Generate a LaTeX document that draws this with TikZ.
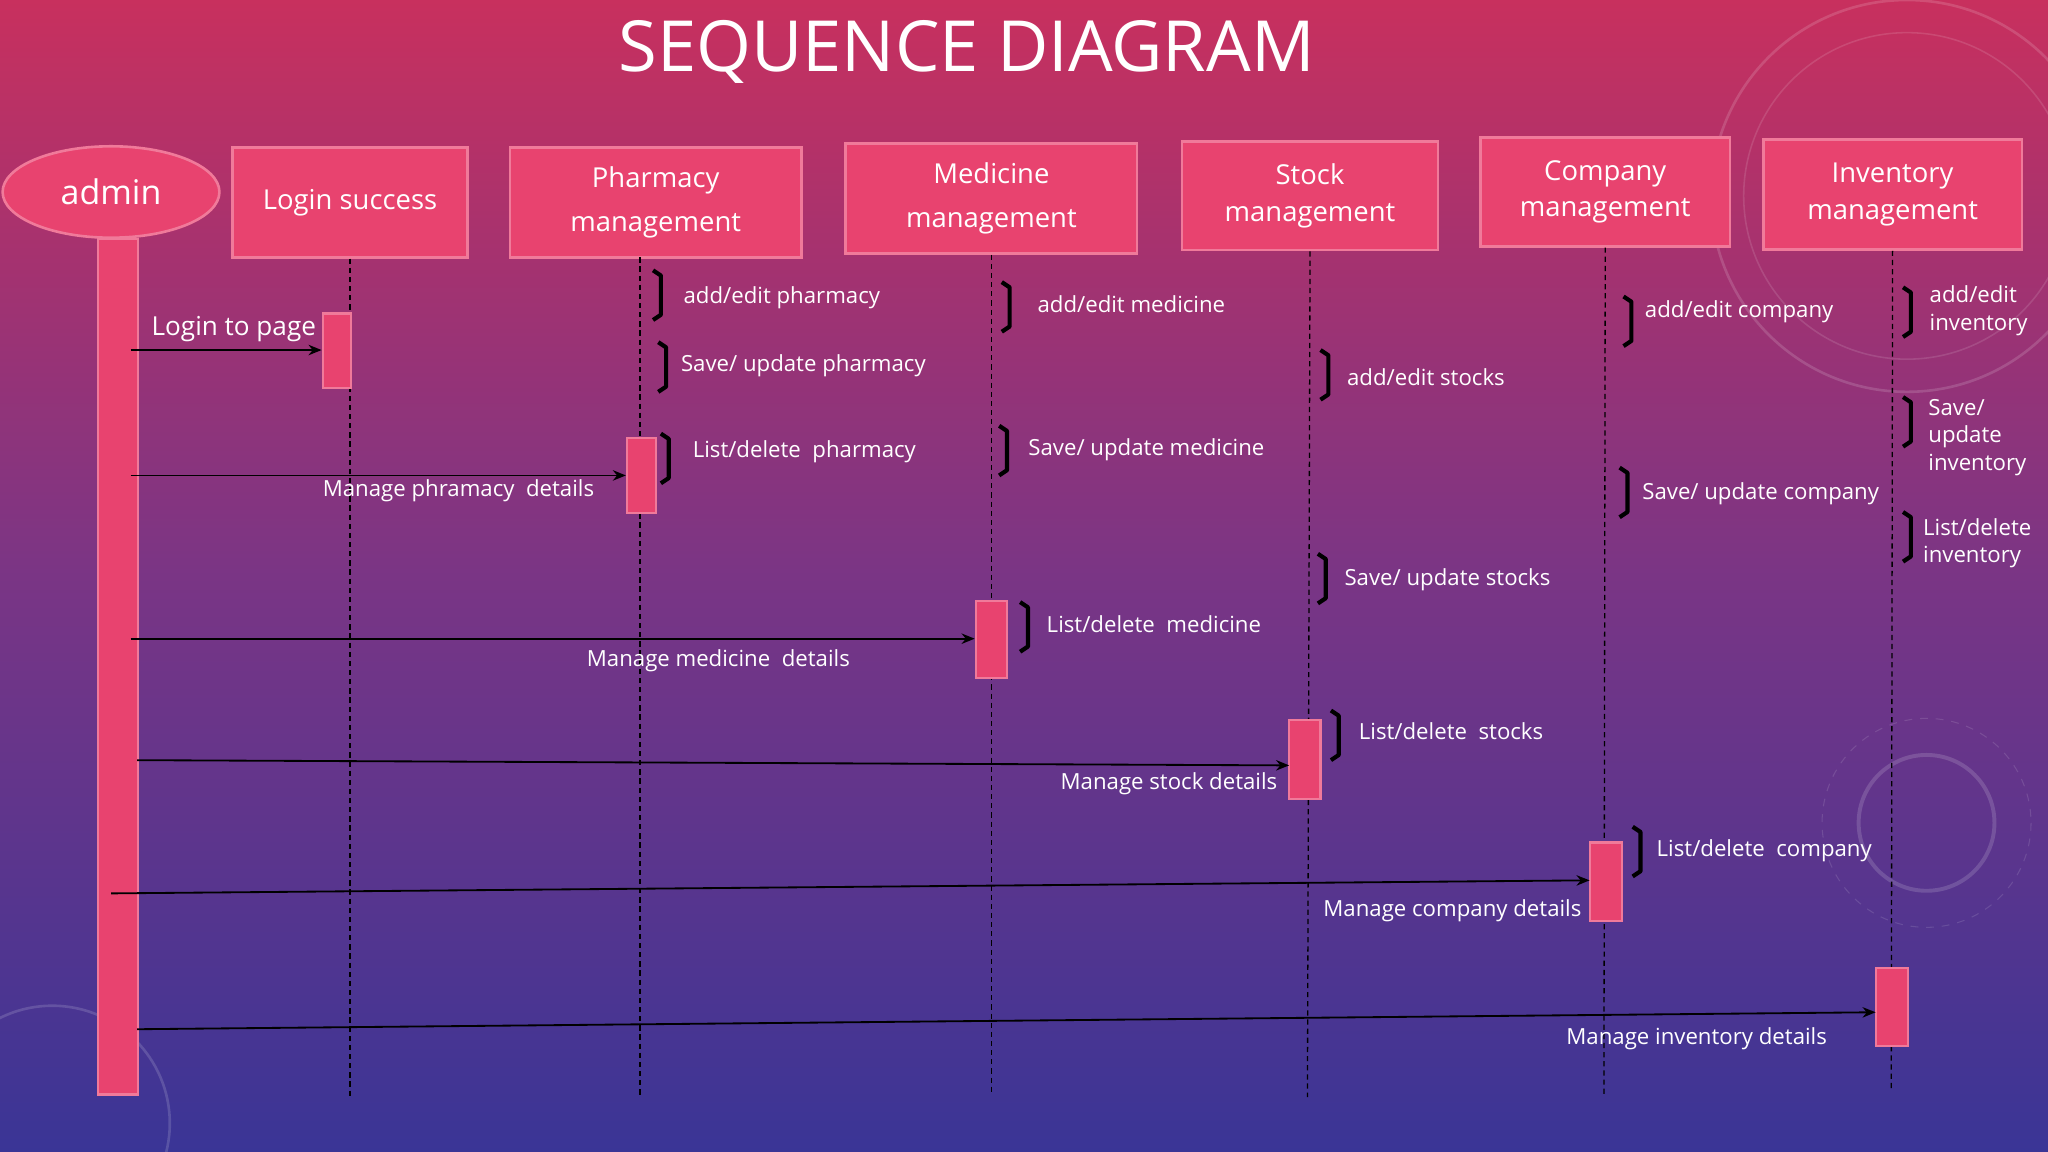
\documentclass[tikz,border=0pt]{standalone}
\usepackage{fontspec}
\setmainfont{Open Sans}
\usetikzlibrary{arrows.meta,shapes.geometric}
\definecolor{boxfill}{HTML}{E8436F}
\definecolor{boxline}{HTML}{F07A9A}
\definecolor{bgtop}{HTML}{C8305E}
\definecolor{bgmid}{HTML}{7A3585}
\definecolor{bgbot}{HTML}{3A3596}
\tikzset{
  x=0.5pt,y=-0.5pt,
  hdr/.style={draw=boxline,line width=1pt,fill=boxfill,text=white,font=\fontsize{10.5}{14}\selectfont,align=center,inner sep=0pt},
  bar/.style={draw=boxline,line width=0.8pt,fill=boxfill,inner sep=0pt},
  life/.style={dashed,black,line width=0.5pt,dash pattern=on 2pt off 1.5pt},
  msg/.style={-{Stealth[length=5pt,width=4pt]},black,line width=0.7pt},
  lbl/.style={text=white,font=\fontsize{8.5}{10.5}\selectfont,inner sep=0pt,align=left},
  brk/.style={black,line width=1.6pt,line join=round},
  sz/.style 2 args={minimum width=0.5*#1 pt,minimum height=0.5*#2 pt}
}
\newcommand{\brak}[3]{\draw[brk] (#1-6,#2) -- (#1,#2+4) -- (#1,#3-4) -- (#1-6,#3);}
\begin{document}
\begin{tikzpicture}
\useasboundingbox (0,0) rectangle (1568,882);
\shade[top color=bgtop,bottom color=bgbot,middle color=bgmid] (0,0) rectangle (1568,882);
\draw[white,opacity=0.15,line width=1pt] (1460,150) circle (150);
\draw[white,opacity=0.12,line width=0.6pt] (1460,150) circle (125);
\draw[white,opacity=0.15,line width=1.5pt] (1475,630) circle (52);
\draw[white,opacity=0.12,dashed] (1475,630) circle (80);
\draw[white,opacity=0.15,line width=1pt] (40,860) circle (90);

\node[text=white,font=\fontsize{27}{30}\selectfont] (title) at (740,40) {SEQUENCE DIAGRAM};

\node[draw=boxline,line width=1pt,fill=boxfill,ellipse,sz={166}{70},text=white,font=\fontsize{13}{15}\selectfont,inner sep=0pt] (admin) at (85,147) {admin};
\node[hdr,sz={180}{84}] (login) at (268,155) {Login success};
\node[hdr,sz={223}{84}] (pharm) at (502,155) {Pharmacy\\[3pt]management};
\node[hdr,sz={223}{84}] (med) at (759,152) {Medicine\\[3pt]management};
\node[hdr,sz={196}{83}] (stock) at (1003,150) {Stock\\management};
\node[hdr,sz={191}{83}] (comp) at (1229,147) {Company\\management};
\node[hdr,sz={198}{84}] (inv) at (1449,149) {Inventory\\management};

\coordinate (le) at (268,840); \draw[life] (login.south) -- (le);
\coordinate (pe) at (490,840); \draw[life] (490,197) -- (pe);
\coordinate (me) at (759,838); \draw[life] (med.south) -- (me);
\coordinate (se) at (1001,840); \draw[life] (stock.south) -- (se);
\coordinate (ce) at (1228,838); \draw[life] (comp.south) -- (ce);
\coordinate (ie) at (1448,835); \draw[life] (inv.south) -- (ie);

\node[bar,sz={31}{655}] (abar) at (90.5,510.5) {};
\node[bar,sz={22}{57}] (lbar) at (258,268.5) {};
\node[bar,sz={22}{58}] (pbar) at (491,364) {};
\node[bar,sz={24}{59}] (mbar) at (759,489.5) {};
\node[bar,sz={24}{61}] (sbar) at (999,581.5) {};
\node[bar,sz={25}{60}] (cbar) at (1229.5,675) {};
\node[bar,sz={25}{60}] (ibar) at (1448.5,771) {};

\coordinate (a1) at (100,268); \draw[msg] (a1) -- (lbar.west|-a1);
\node[lbl,font=\fontsize{10}{12}\selectfont] (t1) at (179,252) {Login to page};
\coordinate (a2) at (100,364); \draw[msg] (a2) -- (pbar.west|-a2);
\node[lbl] (t2) at (351,376) {Manage phramacy\ \ details};
\coordinate (a3) at (100,489); \draw[msg] (a3) -- (mbar.west|-a3);
\node[lbl] (t3) at (550,506) {Manage medicine\ \ details};
\coordinate (a4) at (105,582); \coordinate (b4) at (987,586); \draw[msg] (a4) -- (b4);
\node[lbl] (t4) at (895,600) {Manage stock details};
\coordinate (a5) at (85,684); \coordinate (b5) at (1217,674); \draw[msg] (a5) -- (b5);
\node[lbl] (t5) at (1112,697) {Manage company details};
\coordinate (a6) at (105,788); \coordinate (b6) at (1436,775); \draw[msg] (a6) -- (b6);
\node[lbl] (t6) at (1299,795) {Manage inventory details};

\brak{506}{207}{245} \node[lbl,anchor=west] (p1) at (523,228) {add/edit pharmacy};
\brak{510}{262}{300} \node[lbl,anchor=west] (p2) at (521,280) {Save/ update pharmacy};
\brak{512}{332}{370} \node[lbl,anchor=west] (p3) at (530,346) {List/delete\ \ pharmacy};
\brak{773}{216}{254} \node[lbl,anchor=west] (m1) at (794,233) {add/edit medicine};
\brak{771}{326}{364} \node[lbl,anchor=west] (m2) at (787,344) {Save/ update medicine};
\brak{787}{461}{499} \node[lbl,anchor=west] (m3) at (801,478) {List/delete\ \ medicine};
\brak{1017}{268}{306} \node[lbl,anchor=west] (s1) at (1031,289) {add/edit stocks};
\brak{1015}{424}{462} \node[lbl,anchor=west] (s2) at (1029,444) {Save/ update stocks};
\brak{1025}{544}{582} \node[lbl,anchor=west] (s3) at (1040,560) {List/delete\ \ stocks};
\brak{1249}{227}{265} \node[lbl,anchor=west] (c1) at (1259,239) {add/edit company};
\brak{1246}{358}{396} \node[lbl,anchor=west] (c2) at (1257,378) {Save/ update company};
\brak{1256}{633}{671} \node[lbl,anchor=west] (c3) at (1268,651) {List/delete\ \ company};
\brak{1463}{220}{258} \node[lbl,anchor=west] (i1) at (1477,238) {add/edit\\inventory};
\brak{1463}{304}{342} \node[lbl,anchor=west] (i2) at (1476,335) {Save/\\update\\inventory};
\brak{1463}{392}{430} \node[lbl,anchor=west] (i3) at (1472,416) {List/delete\\inventory};
\end{tikzpicture}
\end{document}
